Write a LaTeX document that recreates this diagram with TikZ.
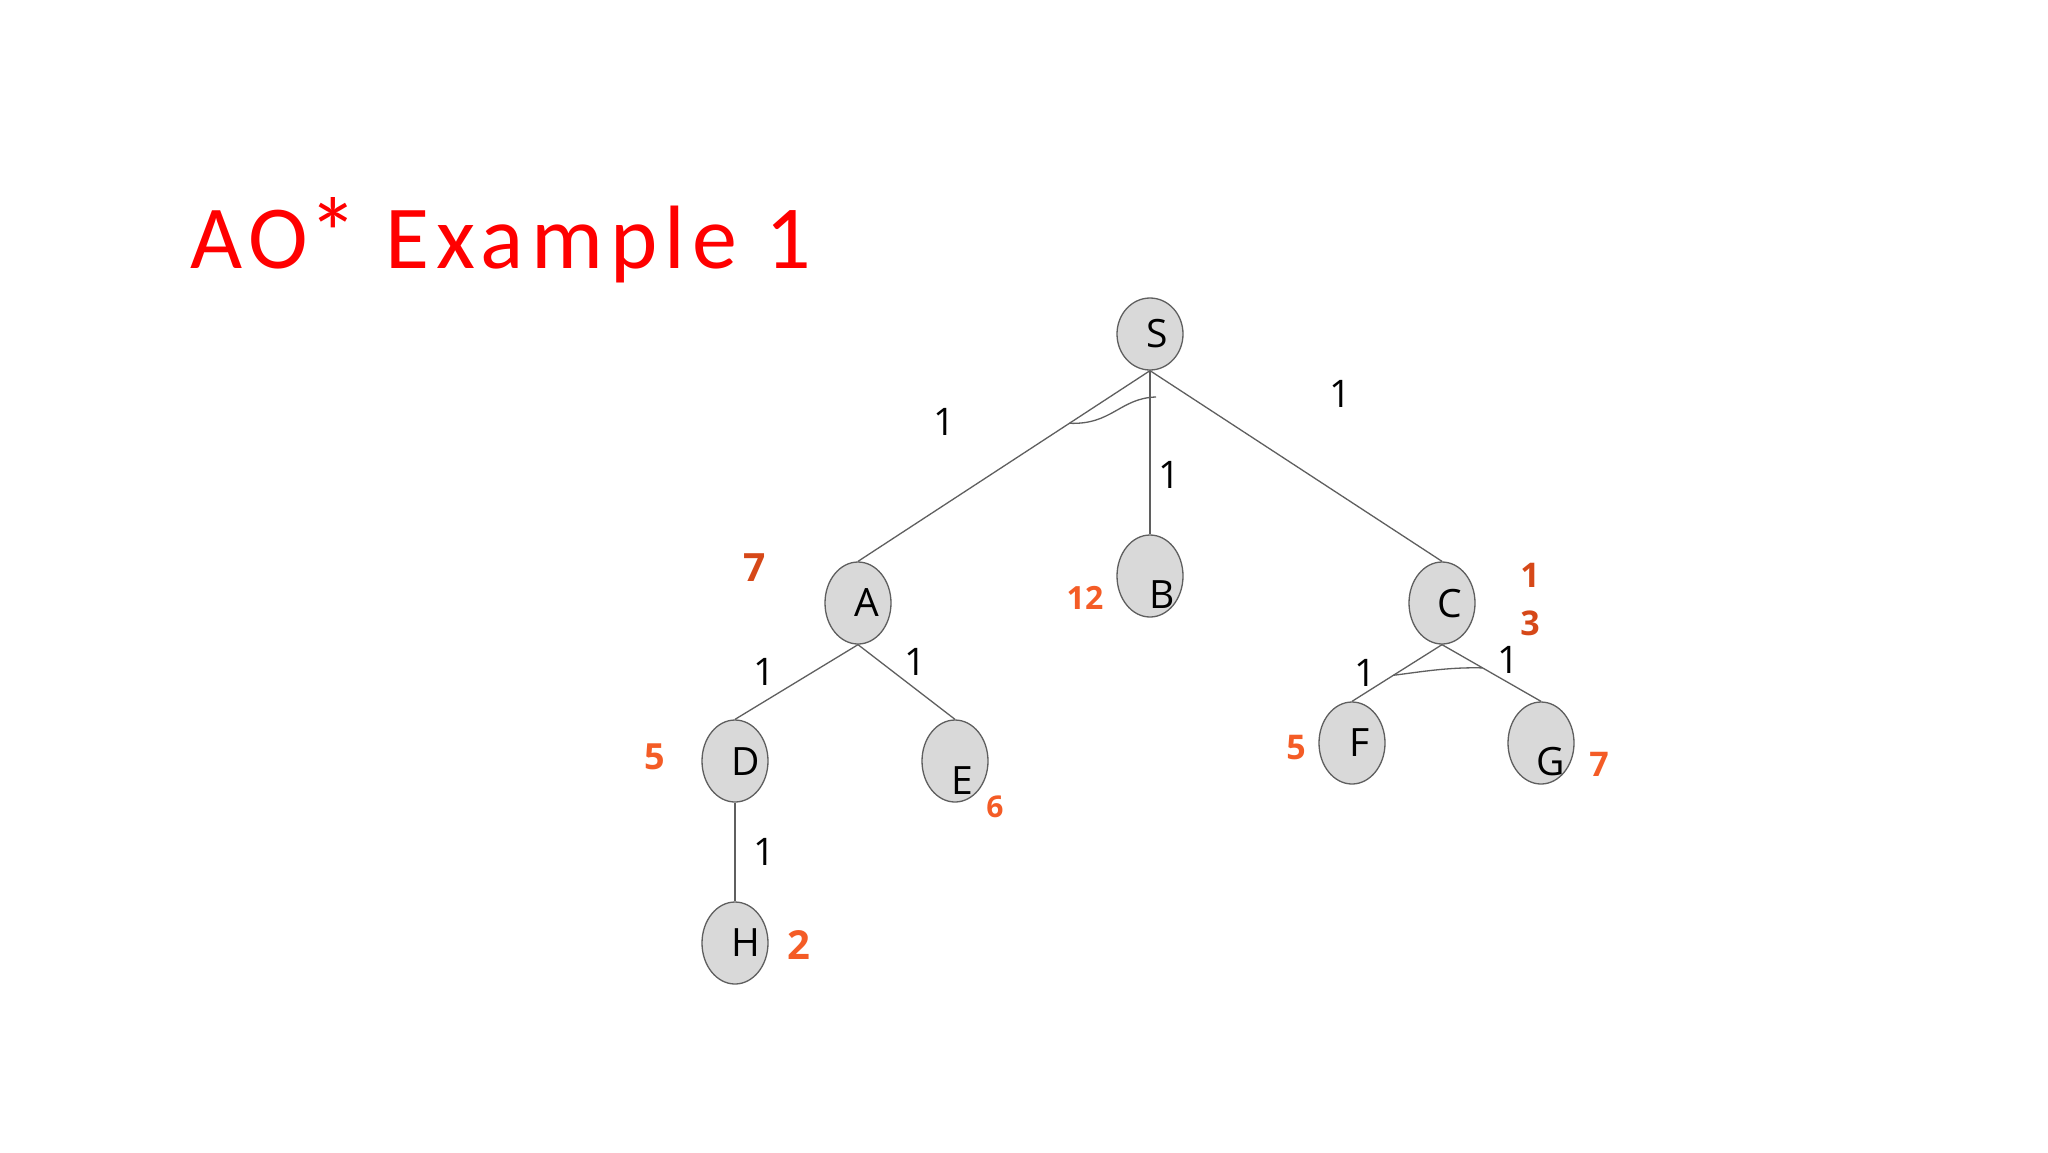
\documentclass[tikz,border=0pt]{standalone}
\usepackage{fontspec}
\setmainfont{Open Sans}
\newfontfamily\titlefont[LetterSpace=8]{Carlito}
\usetikzlibrary{shapes.geometric,calc}
\definecolor{edgegray}{RGB}{95,95,95}
\definecolor{nodefill}{RGB}{217,217,217}
\definecolor{darkorange}{RGB}{214,72,24}
\definecolor{lightorange}{RGB}{244,92,38}
\definecolor{titlered}{RGB}{255,0,0}
\tikzset{
  onode/.style={ellipse,draw=edgegray,fill=nodefill,line width=1.3pt,inner sep=0pt,minimum width=66pt,minimum height=82pt},
  ltr/.style={inner sep=0pt,font=\fontsize{39}{44}\selectfont},
  cost/.style={inner sep=0pt,font=\fontsize{38}{44}\selectfont},
  hval/.style={inner sep=0pt,text=lightorange,font=\bfseries\fontsize{#1}{#1}\selectfont},
  hdark/.style={inner sep=0pt,text=darkorange,font=\bfseries\fontsize{#1}{#1}\selectfont},
  conn/.style={draw=edgegray,line width=1.3pt}
}
\begin{document}
\begin{tikzpicture}[x=1pt,y=-1pt]
\useasboundingbox (0,0) rectangle (2048,1152);
\fill[white] (0,0) rectangle (2048,1152);
% title
\node[anchor=base west,inner sep=0pt,text=titlered,font=\titlefont\fontsize{90}{100}\selectfont] (title) at (190,268) {AO{\fontsize{100}{100}\selectfont*} Example 1};
% nodes
\node[onode,minimum height=72pt] (S) at (1150,334) {};
\node[onode] (B) at (1150,576) {};
\node[onode] (A) at (858,603) {};
\node[onode] (C) at (1442,603) {};
\node[onode] (D) at (735,761) {};
\node[onode] (E) at (955,761) {};
\node[onode] (H) at (735,943) {};
\node[onode] (F) at (1352,743) {};
\node[onode] (G) at (1541,743) {};
% edges
\draw[conn] (S.south) -- (A.north);
\draw[conn] (S.south) -- (B.north);
\draw[conn] (S.south) -- (C.north);
\draw[conn] (A.south) -- (D.north);
\draw[conn] (A.south) -- (E.north);
\draw[conn] (D.south) -- (H.north);
\draw[conn] (C.south) -- (F.north);
\draw[conn] (C.south) -- (G.north);
% AND arcs
\coordinate (sa) at ($(S.south)!0.276!(A.north)$);
\coordinate (sb) at (1156,397);
\draw[conn] (sa) .. controls (1112,425) and (1120,398) .. (sb);
\coordinate (cf) at ($(C.south)!0.54!(F.north)$);
\coordinate (cg) at ($(C.south)!0.41!(G.north)$);
\draw[conn] (cf) .. controls (1420,672) and (1448,667) .. (cg);
% node letters
\node[ltr] (tS) at (1157,334) {S};
\node[ltr] (tB) at (1162,595) {B};
\node[ltr] (tA) at (867,603) {A};
\node[ltr] (tC) at (1450,604) {C};
\node[ltr] (tD) at (746,762) {D};
\node[ltr] (tE) at (962,781) {E};
\node[ltr] (tH) at (746,943) {H};
\node[ltr] (tF) at (1360,743) {F};
\node[ltr] (tG) at (1551,762) {G};
% edge costs
\node[cost] (cSA) at (944,422) {1};
\node[cost] (cSB) at (1169,475) {1};
\node[cost] (cSC) at (1340,394) {1};
\node[cost] (cAD) at (764,672) {1};
\node[cost] (cAE) at (915,662) {1};
\node[cost] (cDH) at (764,852) {1};
\node[cost] (cCF) at (1365,673) {1};
\node[cost] (cCG) at (1508,660) {1};
% heuristic values
\node[hdark=39] (hA) at (755,568) {7};
\node[hval=32] (hB) at (1085,598) {12};
\node[hval=36] (hD) at (655,757) {5};
\node[hval=30] (hE) at (995,807) {6};
\node[hval=40] (hH) at (799,945) {2};
\node[hdark=34] (hC1) at (1530,575) {1};
\node[hdark=34] (hC2) at (1530,623) {3};
\node[hval=34] (hF) at (1296,748) {5};
\node[hval=34] (hG) at (1599,764) {7};
\end{tikzpicture}
\end{document}
